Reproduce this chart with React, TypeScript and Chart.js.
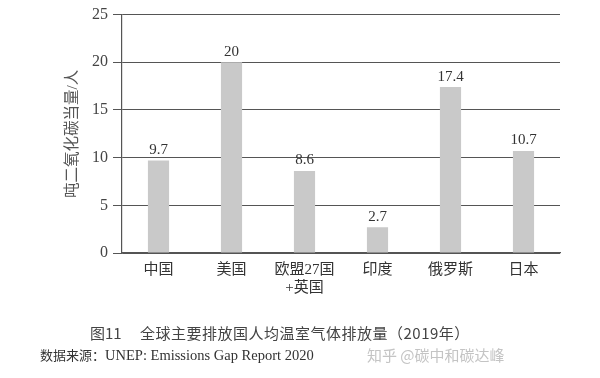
import React, { useEffect, useRef } from "react";
import { Chart, registerables } from "chart.js";

Chart.register(...registerables);

const categories: (string | string[])[] = ["中国", "美国", ["欧盟27国", "+英国"], "印度", "俄罗斯", "日本"];
const values: number[] = [9.7, 20, 8.6, 2.7, 17.4, 10.7];
const valueLabels: string[] = ["9.7", "20", "8.6", "2.7", "17.4", "10.7"];
const yTicks: number[] = [0, 5, 10, 15, 20, 25];
const yTitle = "吨二氧化碳当量/人";
const captionNo = "图11";
const caption = "全球主要排放国人均温室气体排放量（2019年）";
const sourceLabel = "数据来源：";
const sourceText = "UNEP: Emissions Gap Report 2020";
const watermark = "知乎 @碳中和碳达峰";

const SERIF = "'Liberation Serif', 'Noto Sans CJK SC', serif";

const valueLabelPlugin = {
  id: "valueLabels",
  afterDatasetsDraw(chart: any) {
    const { ctx } = chart;
    const meta = chart.getDatasetMeta(0);
    ctx.save();
    ctx.fillStyle = "#333";
    ctx.font = `15px ${SERIF}`;
    ctx.textAlign = "center";
    ctx.textBaseline = "bottom";
    meta.data.forEach((bar: any, i: number) => {
      ctx.fillText(valueLabels[i], bar.x, bar.y - 3);
    });
    ctx.restore();
  },
};

export default function App() {
  const ref = useRef<HTMLCanvasElement>(null);
  useEffect(() => {
    if (!ref.current) return;
    const chart = new Chart(ref.current, {
      type: "bar",
      data: {
        labels: categories,
        datasets: [
          {
            data: values,
            backgroundColor: "#c9c9c9",
            borderWidth: 0,
            barPercentage: 0.29,
            categoryPercentage: 1,
          },
        ],
      },
      options: {
        responsive: false,
        animation: false,
        devicePixelRatio: 1,
        layout: { padding: { left: 64, right: 40, top: 14, bottom: 0 } },
        plugins: {
          legend: { display: false },
          tooltip: { enabled: false },
        },
        scales: {
          x: {
            grid: { display: false, drawTicks: false },
            border: { display: true, color: "#555", width: 1.2 },
            ticks: {
              color: "#333",
              font: { family: SERIF, size: 15 },
              padding: 8,
            },
            afterFit: (s: any) => {
              s.height = 125;
            },
          },
          y: {
            min: 0,
            max: 25,
            afterBuildTicks: (s: any) => {
              s.ticks = yTicks.map((v) => ({ value: v }));
            },
            grid: {
              color: "#555",
              lineWidth: 1,
              drawTicks: true,
              tickLength: 9,
            },
            border: { display: true, color: "#555", width: 1.2 },
            ticks: {
              color: "#444",
              font: { family: SERIF, size: 16 },
              padding: 5,
            },
            title: {
              display: true,
              text: yTitle,
              color: "#555",
              font: { family: SERIF, size: 15.5 },
              padding: 0,
            },
            afterFit: (s: any) => {
              s.width = 58;
            },
          },
        },
      },
      plugins: [valueLabelPlugin],
    });
    return () => chart.destroy();
  }, []);

  return (
    <div style={{ position: "absolute", left: 0, top: 0, width: 600, height: 378, background: "#fff" }}>
      <canvas ref={ref} width={600} height={378} style={{ position: "absolute", left: 0, top: 0 }} />
      <div
        style={{
          position: "absolute",
          left: 90,
          top: 322,
          fontFamily: "'Noto Sans CJK SC', sans-serif",
          fontSize: 15,
          color: "#444",
          whiteSpace: "pre",
          lineHeight: "22px",
        }}
      >
        {captionNo}
      </div>
      <div
        style={{
          position: "absolute",
          left: 140,
          top: 322,
          fontFamily: "'Noto Sans CJK SC', sans-serif",
          fontSize: 15,
          letterSpacing: 0.5,
          color: "#444",
          whiteSpace: "pre",
          lineHeight: "22px",
        }}
      >
        {caption}
      </div>
      <div
        style={{
          position: "absolute",
          left: 40,
          top: 345,
          fontFamily: SERIF,
          fontSize: 14.5,
          color: "#333",
          whiteSpace: "pre",
          lineHeight: "20px",
        }}
      >
        <span style={{ fontSize: 13 }}>{sourceLabel}</span>
        {sourceText}
      </div>
      <div
        style={{
          position: "absolute",
          left: 367,
          top: 345,
          fontFamily: "'Noto Sans CJK SC', sans-serif",
          fontSize: 15,
          color: "#c4c4c4",
          whiteSpace: "pre",
          lineHeight: "20px",
        }}
      >
        {watermark}
      </div>
    </div>
  );
}
